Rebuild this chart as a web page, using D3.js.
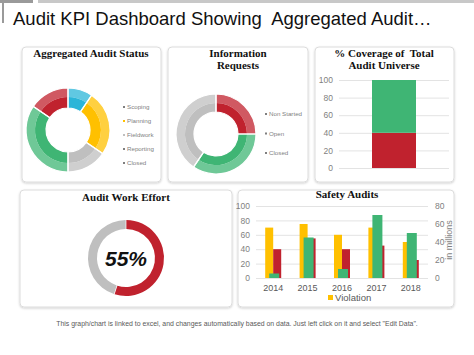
<!DOCTYPE html>
<html><head><meta charset="utf-8">
<script src="https://cdn.jsdelivr.net/npm/d3@7"></script>
<style>body{margin:0;background:#fff}svg{display:block}text{white-space:pre}</style>
</head><body>
<svg id="c" width="474" height="355"></svg>
<script>
// ---- data ----
const statusCats = ["Scoping","Planning","Fieldwork","Reporting","Closed"];
const statusVals = [9.5, 25, 15.5, 34.5, 15.5];
const statusColors = ["#2bb5d8","#ffc000","#bfbfbf","#3fb574","#c0222e"];

const reqCats = ["Non Started","Open","Closed"];
const reqVals = [25, 34.5, 40.5];
const reqColors = ["#c0222e","#3fb574","#bfbfbf"];

const coverageCats = ["Covered","Not covered"];
const coverageVals = [40, 60];
const coverageColors = ["#c0222e","#3fb574"];
const coverageTicks = [0,20,40,60,80,100];

const effortVals = [55, 45];
const effortColors = ["#c0222e","#bfbfbf"];

const years = ["2014","2015","2016","2017","2018"];
const violation = [70, 75, 60, 70, 50];
const redSeries = [40, 55, 40, 45, 25];
const greenSeries = [5, 45, 10, 70, 50]; // secondary axis (in millions)
const leftTicks = [0,20,40,60,80,100];
const rightTicks = [0,20,40,60,80];

// ---- drawing ----
const svg = d3.select("#c");
const sans = "Liberation Sans, Arial, sans-serif";
const serif = "Liberation Serif, Times New Roman, serif";

// top frame decoration
svg.append("rect").attr("x",0).attr("y",0).attr("width",33).attr("height",3).attr("fill","#9a9a9a");
svg.append("rect").attr("x",38).attr("y",0).attr("width",436).attr("height",3).attr("fill","#c8c8c8");
svg.append("rect").attr("x",2).attr("y",0).attr("width",2).attr("height",23).attr("fill","#9a9a9a");

svg.append("text").attr("x",13).attr("y",25).attr("font-family",sans).attr("font-size",18.5)
  .attr("fill","#111").text("Audit KPI Dashboard Showing  Aggregated Audit…");

const panels = [
  {x:22,y:47,w:139,h:135},
  {x:168,y:47,w:140,h:135},
  {x:315,y:47,w:139,h:135},
  {x:20,y:190,w:212,h:117},
  {x:238,y:190,w:216,h:117}
];
const defs = svg.append("defs");
const f = defs.append("filter").attr("id","sh").attr("x","-5%").attr("y","-5%").attr("width","110%").attr("height","115%");
f.append("feDropShadow").attr("dx",0).attr("dy",1).attr("stdDeviation",1).attr("flood-color","#000").attr("flood-opacity",0.18);
panels.forEach(p=>{
  svg.append("rect").attr("x",p.x).attr("y",p.y).attr("width",p.w).attr("height",p.h)
    .attr("rx",4).attr("fill","#fff").attr("stroke","#dcdcdc").attr("stroke-width",1).attr("filter","url(#sh)");
});

function title(lines, cx, y0, size){
  lines.forEach((t,i)=>{
    svg.append("text").attr("x",cx).attr("y",y0+i*11.5).attr("text-anchor","middle")
      .attr("font-family",serif).attr("font-weight","bold").attr("font-size",size).attr("fill","#111").text(t);
  });
}

function lighten(c,k){ return d3.interpolateRgb(c,"#fff")(k); }

function twoToneDonut(cx,cy,vals,colors,r0,rm,r1){
  const pie = d3.pie().sort(null).value(d=>d)(vals);
  const g = svg.append("g").attr("transform",`translate(${cx},${cy})`);
  const inner = d3.arc().innerRadius(r0).outerRadius(rm);
  const outer = d3.arc().innerRadius(rm).outerRadius(r1);
  g.selectAll("path.o").data(pie).join("path").attr("d",outer).attr("fill",(d,i)=>lighten(colors[i],0.25));
  g.selectAll("path.i").data(pie).join("path").attr("d",inner).attr("fill",(d,i)=>colors[i]);
  g.selectAll("path.s").data(pie).join("path").attr("d",d3.arc().innerRadius(r0).outerRadius(r1))
    .attr("fill","none").attr("stroke","#fff").attr("stroke-width",1.2);
}

function legend(x,y0,dy,cats,colors){
  cats.forEach((c,i)=>{
    svg.append("rect").attr("x",x).attr("y",y0+i*dy-3).attr("width",2).attr("height",2).attr("fill",colors[i]);
    svg.append("text").attr("x",x+4).attr("y",y0+i*dy).attr("font-family",sans).attr("font-size",6.2)
      .attr("fill","#7f7f7f").text(c);
  });
}

// Panel 1
title(["Aggregated Audit Status"],91,57,11);
twoToneDonut(68,130,statusVals,statusColors,22,33,42);
legend(123,109,14,statusCats,["#7f7f7f","#ffc000","#bfbfbf","#7f7f7f","#7f7f7f"]);

// Panel 2
title(["Information","Requests"],238,57,11);
twoToneDonut(216,134,reqVals,reqColors,22,31,40);
legend(265,116,19.5,reqCats,["#7f7f7f","#7f7f7f","#7f7f7f"]);

// Panel 3
title(["% Coverage of  Total","Audit Universe"],384,57,11);
{
  const y = d3.scaleLinear().domain([0,100]).range([168,80]);
  const g = svg.append("g");
  const ax = d3.axisLeft(y).tickValues(coverageTicks).tickSize(-110).tickPadding(6);
  const a = g.append("g").attr("transform","translate(339,0)").call(ax);
  a.select(".domain").remove();
  a.selectAll(".tick line").attr("stroke","#e3e3e3");
  a.selectAll("text").attr("font-family",sans).attr("font-size",8.5).attr("fill","#7f7f7f");
  let base = 0;
  coverageVals.forEach((v,i)=>{
    g.append("rect").attr("x",372).attr("width",44).attr("y",y(base+v)).attr("height",y(base)-y(base+v)).attr("fill",coverageColors[i]);
    base += v;
  });
}

// Panel 4
title(["Audit Work Effort"],126,201,11);
{
  const pie = d3.pie().sort(null).value(d=>d)(effortVals);
  const g = svg.append("g").attr("transform","translate(126,258)");
  g.selectAll("path").data(pie).join("path")
    .attr("d",d3.arc().innerRadius(29).outerRadius(38).padAngle(0.015))
    .attr("fill",(d,i)=>effortColors[i]);
  g.append("text").attr("y",8).attr("text-anchor","middle").attr("font-family",sans)
    .attr("font-style","italic").attr("font-weight","bold").attr("font-size",21).attr("fill","#111").text(effortVals[0]+"%");
}

// Panel 5
title(["Safety Audits"],347,198,11);
{
  const x = d3.scaleBand().domain(years).range([256,428]);
  const yL = d3.scaleLinear().domain([0,100]).range([278,206]);
  const yR = d3.scaleLinear().domain([0,80]).range([278,206]);
  const g = svg.append("g");
  const aL = g.append("g").attr("transform","translate(256,0)")
    .call(d3.axisLeft(yL).tickValues(leftTicks).tickSize(-172).tickPadding(6));
  aL.select(".domain").remove();
  aL.selectAll(".tick line").attr("stroke","#e3e3e3");
  aL.selectAll("text").attr("font-family",sans).attr("font-size",8.5).attr("fill","#7f7f7f");
  const aR = g.append("g").attr("transform","translate(428,0)")
    .call(d3.axisRight(yR).tickValues(rightTicks).tickSize(0).tickPadding(7));
  aR.select(".domain").remove();
  aR.selectAll("text").attr("font-family",sans).attr("font-size",8.5).attr("fill","#7f7f7f");
  const aX = g.append("g").attr("transform","translate(0,278)").call(d3.axisBottom(x).tickSize(0).tickPadding(7));
  aX.select(".domain").remove();
  aX.selectAll("text").attr("font-family",sans).attr("font-size",9).attr("fill","#595959");

  const bw = 8;
  years.forEach((yr,i)=>{
    const c = x(yr)+x.bandwidth()/2;
    g.append("rect").attr("x",c-bw).attr("width",bw).attr("y",yL(violation[i])).attr("height",278-yL(violation[i])).attr("fill","#ffc000");
    g.append("rect").attr("x",c).attr("width",bw).attr("y",yL(redSeries[i])).attr("height",278-yL(redSeries[i])).attr("fill","#c0222e");
  });
  years.forEach((yr,i)=>{
    const c = x(yr)+x.bandwidth()/2+1;
    g.append("rect").attr("x",c-5).attr("width",10).attr("y",yR(greenSeries[i])).attr("height",278-yR(greenSeries[i])).attr("fill","#3fb574");
  });
  svg.append("text").attr("transform","translate(452,240) rotate(-90)").attr("text-anchor","middle")
    .attr("font-family",sans).attr("font-size",9).attr("fill","#7f7f7f").text("in millions");
  svg.append("rect").attr("x",328).attr("y",295).attr("width",5).attr("height",5).attr("fill","#ffc000");
  svg.append("text").attr("x",335).attr("y",301).attr("font-family",sans).attr("font-size",9.5).attr("fill","#595959").text("Violation");
}

svg.append("text").attr("x",237).attr("y",326).attr("text-anchor","middle").attr("font-family",sans)
  .attr("font-size",6.9).attr("fill","#595959")
  .text("This graph/chart is linked to excel, and changes automatically based on data. Just left click on it and select \"Edit Data\".");
</script>
</body></html>
